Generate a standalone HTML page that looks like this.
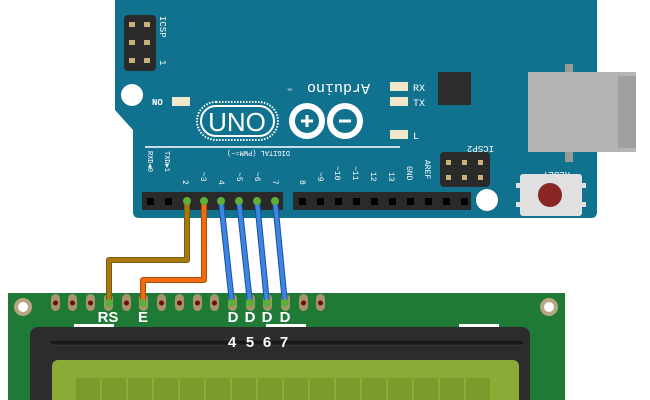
<!DOCTYPE html>
<html><head><style>body{margin:0;background:#fff}svg{display:block}</style></head><body>
<svg width="650" height="400" viewBox="0 0 650 400" xmlns="http://www.w3.org/2000/svg" font-family="Liberation Mono, monospace">
<!-- board -->
<path d="M115 0 H597 V212 Q597 218 591 218 H139 Q133 218 133 212 V130 L115 110 Z" fill="#10728f"/>
<!-- USB -->
<rect x="565" y="64" width="8" height="98" fill="#9a9a9a"/>
<rect x="528" y="72" width="108" height="80" fill="#b4b4b4"/>
<rect x="618" y="76" width="18" height="72" fill="#a0a0a0"/>
<!-- ICSP -->
<rect x="124" y="15" width="32" height="56" rx="4" fill="#2a2a2a"/>
<g fill="#c8b27a"><rect x="129" y="22" width="6" height="5"/><rect x="144" y="22" width="6" height="5"/><rect x="129" y="40" width="6" height="5"/><rect x="144" y="40" width="6" height="5"/><rect x="129" y="58" width="6" height="5"/><rect x="144" y="58" width="6" height="5"/></g>
<text x="0" y="0" transform="translate(160,16) rotate(90)" font-size="9" fill="#fff">ICSP</text>
<text x="0" y="0" transform="translate(160,60) rotate(90)" font-size="9" fill="#fff">1</text>
<circle cx="132" cy="95" r="11" fill="#fff"/>
<text x="152" y="105" font-size="9" fill="#fff" font-weight="bold">NO</text>
<rect x="172" y="97" width="18" height="9" fill="#f0e6c8"/>
<!-- UNO -->
<rect x="197" y="102" width="81" height="38" rx="19" fill="none" stroke="#fff" stroke-width="2" stroke-dasharray="1.5 1.5"/>
<rect x="201" y="106" width="73" height="30" rx="15" fill="none" stroke="#fff" stroke-width="2"/>
<text x="237" y="131" font-size="26" fill="#fff" text-anchor="middle" font-family="Liberation Sans, sans-serif">UNO</text>
<!-- infinity -->
<circle cx="307" cy="121" r="15" fill="none" stroke="#fff" stroke-width="6"/>
<circle cx="345" cy="121" r="15" fill="none" stroke="#fff" stroke-width="6"/>
<path d="M301 121h12M307 115v12M339 121h12" stroke="#fff" stroke-width="3"/>
<text x="0" y="0" transform="translate(370,84) rotate(180)" font-size="15" fill="#fff">Arduino</text>
<text x="287" y="91" font-size="4" fill="#fff">TM</text>
<!-- LEDs -->
<rect x="390" y="82" width="18" height="9" fill="#f0e6c8"/><text x="413" y="91" font-size="10" fill="#fff">RX</text>
<rect x="390" y="97" width="18" height="9" fill="#f0e6c8"/><text x="413" y="106" font-size="10" fill="#fff">TX</text>
<rect x="390" y="130" width="18" height="9" fill="#f0e6c8"/><text x="413" y="139" font-size="10" fill="#fff">L</text>
<rect x="438" y="72" width="33" height="33" fill="#2c2c2c"/>
<line x1="145" y1="147" x2="400" y2="147" stroke="#fff" stroke-width="1.5"/>
<text x="0" y="0" transform="translate(290,151) rotate(180)" font-size="7" fill="#fff">DIGITAL (PWM=~)</text>
<text x="0" y="0" transform="translate(148,151) rotate(90)" font-size="7" fill="#fff">RXD◄0</text>
<text x="0" y="0" transform="translate(165,151) rotate(90)" font-size="7" fill="#fff">TXD►1</text>
<g font-size="8" fill="#fff">
<text transform="translate(183,180) rotate(90)">2</text><text transform="translate(201,172) rotate(90)">~3</text><text transform="translate(219,180) rotate(90)">4</text><text transform="translate(237,172) rotate(90)">~5</text><text transform="translate(255,172) rotate(90)">~6</text><text transform="translate(273,180) rotate(90)">7</text>
<text transform="translate(300,180) rotate(90)">8</text><text transform="translate(318,172) rotate(90)">~9</text><text transform="translate(335,166) rotate(90)">~10</text><text transform="translate(353,166) rotate(90)">~11</text><text transform="translate(371,172) rotate(90)">12</text><text transform="translate(389,172) rotate(90)">13</text><text transform="translate(407,166) rotate(90)">GND</text><text transform="translate(425,160) rotate(90)">AREF</text>
</g>
<!-- ICSP2 -->
<text x="0" y="0" transform="translate(494,146) rotate(180)" font-size="9" fill="#fff">ICSP2</text>
<rect x="440" y="152" width="50" height="35" rx="4" fill="#2a2a2a"/>
<g fill="#c8b27a"><rect x="446" y="160" width="5" height="5"/><rect x="462" y="160" width="5" height="5"/><rect x="478" y="160" width="5" height="5"/><rect x="446" y="175" width="5" height="5"/><rect x="462" y="175" width="5" height="5"/><rect x="478" y="175" width="5" height="5"/></g>
<circle cx="487" cy="200" r="11" fill="#fff"/>
<!-- reset -->
<text x="0" y="0" transform="translate(570,172) rotate(180)" font-size="9" fill="#fff">RESET</text>
<rect x="520" y="174" width="62" height="42" rx="3" fill="#e0e0e0"/>
<rect x="516" y="183" width="6" height="5" fill="#e0e0e0"/><rect x="516" y="202" width="6" height="5" fill="#e0e0e0"/>
<rect x="580" y="183" width="6" height="5" fill="#e0e0e0"/><rect x="580" y="202" width="6" height="5" fill="#e0e0e0"/>
<circle cx="550" cy="195" r="12" fill="#8a2626"/>
<!-- headers -->
<rect x="142" y="192" width="141" height="18" fill="#2a2a2a"/>
<rect x="293" y="192" width="178" height="18" fill="#2a2a2a"/>
<g fill="#000">
<rect x="147" y="198" width="7" height="7"/><rect x="165" y="198" width="7" height="7"/>
<rect x="299" y="198" width="7" height="7"/><rect x="317" y="198" width="7" height="7"/><rect x="335" y="198" width="7" height="7"/><rect x="353" y="198" width="7" height="7"/><rect x="371" y="198" width="7" height="7"/><rect x="389" y="198" width="7" height="7"/><rect x="407" y="198" width="7" height="7"/><rect x="425" y="198" width="7" height="7"/><rect x="443" y="198" width="7" height="7"/><rect x="461" y="198" width="7" height="7"/>
</g>
<!-- LCD board -->
<rect x="8" y="293" width="557" height="107" fill="#1f7a35"/>
<circle cx="23" cy="307" r="9" fill="#b8a582"/><circle cx="23" cy="307" r="5" fill="#fff"/>
<circle cx="549" cy="307" r="9" fill="#b8a582"/><circle cx="549" cy="307" r="5" fill="#fff"/>
<g fill="#a8936a">
<rect x="51" y="294" width="9" height="17" rx="4.5"/><rect x="68" y="294" width="9" height="17" rx="4.5"/><rect x="86" y="294" width="9" height="17" rx="4.5"/><rect x="104" y="294" width="9" height="17" rx="4.5"/><rect x="122" y="294" width="9" height="17" rx="4.5"/><rect x="139" y="294" width="9" height="17" rx="4.5"/><rect x="157" y="294" width="9" height="17" rx="4.5"/><rect x="175" y="294" width="9" height="17" rx="4.5"/><rect x="193" y="294" width="9" height="17" rx="4.5"/><rect x="210" y="294" width="9" height="17" rx="4.5"/><rect x="228" y="294" width="9" height="17" rx="4.5"/><rect x="246" y="294" width="9" height="17" rx="4.5"/><rect x="263" y="294" width="9" height="17" rx="4.5"/><rect x="281" y="294" width="9" height="17" rx="4.5"/><rect x="299" y="294" width="9" height="17" rx="4.5"/><rect x="316" y="294" width="9" height="17" rx="4.5"/>
</g>
<g fill="#6e0c0c">
<circle cx="55.5" cy="303" r="2.5"/><circle cx="72.5" cy="303" r="2.5"/><circle cx="90.5" cy="303" r="2.5"/><circle cx="126.5" cy="303" r="2.5"/><circle cx="161.5" cy="303" r="2.5"/><circle cx="179.5" cy="303" r="2.5"/><circle cx="197.5" cy="303" r="2.5"/><circle cx="214.5" cy="303" r="2.5"/><circle cx="303.5" cy="303" r="2.5"/><circle cx="320.5" cy="303" r="2.5"/>
</g>
<g fill="#fff"><rect x="74" y="324" width="40" height="3"/><rect x="266" y="324" width="40" height="3"/><rect x="459" y="324" width="40" height="3"/></g>
<rect x="30" y="327" width="500" height="90" rx="8" fill="#2c2c2c"/>
<rect x="50" y="340" width="474" height="5" rx="2.5" fill="#1a1a1a" stroke="#444" stroke-width="0.5"/>
<rect x="52" y="360" width="467" height="50" rx="6" fill="#8aab36"/>
<g fill="#7a9a2b">
<rect x="76" y="378" width="24" height="30"/><rect x="102" y="378" width="24" height="30"/><rect x="128" y="378" width="24" height="30"/><rect x="154" y="378" width="24" height="30"/><rect x="180" y="378" width="24" height="30"/><rect x="206" y="378" width="24" height="30"/><rect x="232" y="378" width="24" height="30"/><rect x="258" y="378" width="24" height="30"/><rect x="284" y="378" width="24" height="30"/><rect x="310" y="378" width="24" height="30"/><rect x="336" y="378" width="24" height="30"/><rect x="362" y="378" width="24" height="30"/><rect x="388" y="378" width="24" height="30"/><rect x="414" y="378" width="24" height="30"/><rect x="440" y="378" width="24" height="30"/><rect x="466" y="378" width="24" height="30"/>
</g>
<!-- wires -->
<g fill="none" stroke-linejoin="round" stroke-linecap="round">
<polyline points="187,201 187,260 109,260 109,303" stroke="#7a5a10" stroke-width="6"/>
<polyline points="187,201 187,260 109,260 109,303" stroke="#a8790f" stroke-width="4"/>
<polyline points="204,201 204,280 143,280 143,303" stroke="#b04c0a" stroke-width="6"/>
<polyline points="204,201 204,280 143,280 143,303" stroke="#f06a10" stroke-width="4"/>
<g stroke="#1c4fa0" stroke-width="6"><line x1="221" y1="201" x2="232" y2="303"/><line x1="239" y1="201" x2="250" y2="303"/><line x1="257" y1="201" x2="267" y2="303"/><line x1="275" y1="201" x2="285" y2="303"/></g>
<g stroke="#3a86e0" stroke-width="4"><line x1="221" y1="201" x2="232" y2="303"/><line x1="239" y1="201" x2="250" y2="303"/><line x1="257" y1="201" x2="267" y2="303"/><line x1="275" y1="201" x2="285" y2="303"/></g>
</g>
<g fill="#5fae3a"><circle cx="187" cy="201" r="4"/><circle cx="204" cy="201" r="4"/><circle cx="221" cy="201" r="4"/><circle cx="239" cy="201" r="4"/><circle cx="257" cy="201" r="4"/><circle cx="275" cy="201" r="4"/>
<circle cx="109" cy="303" r="4"/><circle cx="143" cy="303" r="4"/><circle cx="232" cy="303" r="4"/><circle cx="250" cy="303" r="4"/><circle cx="267" cy="303" r="4"/><circle cx="285" cy="303" r="4"/></g>
<g fill="#fff" font-family="Liberation Sans, sans-serif" font-weight="bold" font-size="15" text-anchor="middle">
<text x="108" y="322">RS</text><text x="143" y="322">E</text>
<text x="233" y="322">D</text><text x="250" y="322">D</text><text x="267" y="322">D</text><text x="285" y="322">D</text>
<text x="232" y="347">4</text><text x="250" y="347">5</text><text x="267" y="347">6</text><text x="284" y="347">7</text>
</g>
</svg>
</body></html>
